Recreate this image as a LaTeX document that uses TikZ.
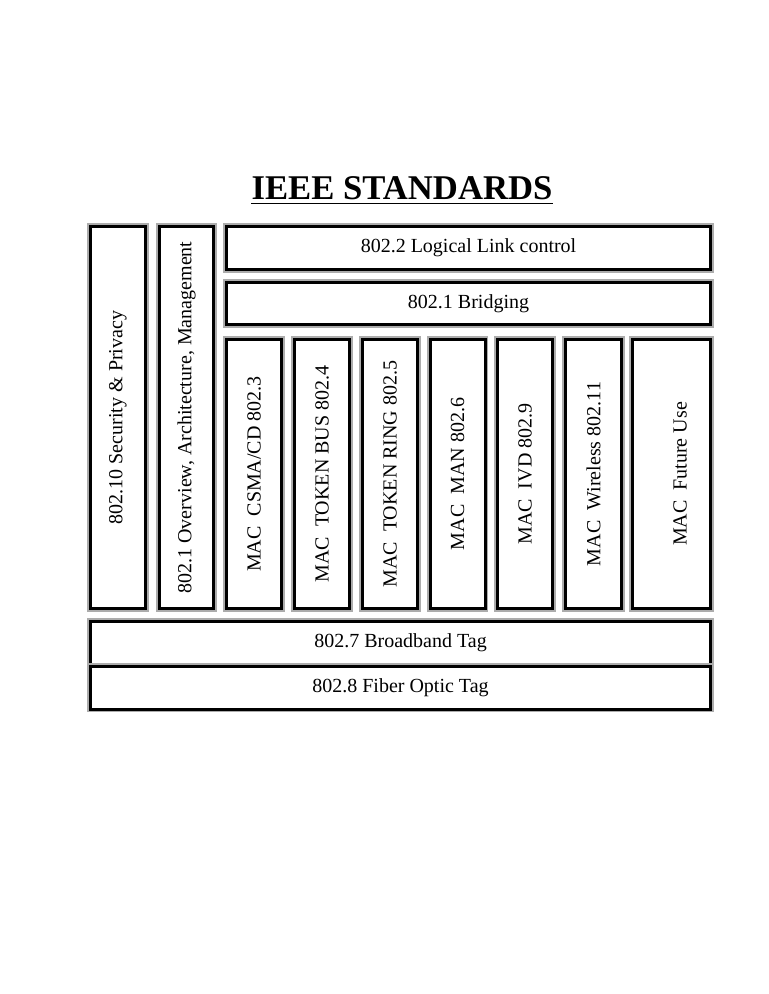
\documentclass[tikz,border=0pt]{standalone}
\usepackage{fontspec}
\setmainfont{Liberation Serif}

\tikzset{every picture/.style={line width=0.75pt}}
\tikzset{
  stdbox/.style={draw=black, line width=2.25pt, fill=white, inner sep=0pt,
    preaction={draw=gray!65, line width=5.2pt}, font=\fontsize{15}{18}\selectfont}
}

\begin{document}
\begin{tikzpicture}[x=0.75pt,y=0.75pt,yscale=-1,xscale=1]
\useasboundingbox (0,0) rectangle (768,994);

% Title
\draw (402,200) node [anchor=base][inner sep=0pt, font=\fontsize{26}{30}\selectfont\bfseries] (title) {IEEE STANDARDS};
\draw [line width=0.9pt] ([yshift=2.4pt]title.base west) -- ([yshift=2.4pt]title.base east);

%Rectangle: side columns
\draw (118,417.5) node [stdbox, minimum width=55*0.75pt, minimum height=382*0.75pt] (sec) {\rotatebox{90}{802.10 Security \& Privacy}};
\draw (186.5,417.5) node [stdbox, minimum width=54*0.75pt, minimum height=382*0.75pt] (ovw) {\rotatebox{90}{802.1 Overview, Architecture, Management}};

%Rectangle: top rows
\draw (468.5,248) node [stdbox, minimum width=484*0.75pt, minimum height=43*0.75pt] (llc) {802.2 Logical Link control};
\draw (468.5,303.5) node [stdbox, minimum width=484*0.75pt, minimum height=42*0.75pt] (brg) {802.1 Bridging};

%Rectangle: MAC columns
\draw (254,474) node [stdbox, minimum width=55*0.75pt, minimum height=269*0.75pt] (csma) {\rotatebox{90}{MAC\ \ CSMA/CD 802.3}};
\draw (322,474) node [stdbox, minimum width=55*0.75pt, minimum height=269*0.75pt] (tbus) {\rotatebox{90}{MAC\ \ TOKEN BUS 802.4}};
\draw (390,474) node [stdbox, minimum width=55*0.75pt, minimum height=269*0.75pt] (tring) {\rotatebox{90}{MAC\ \ TOKEN RING 802.5}};
\draw (457.5,474) node [stdbox, minimum width=55*0.75pt, minimum height=269*0.75pt] (man) {\rotatebox{90}{MAC\ \ MAN 802.6}};
\draw (525,474) node [stdbox, minimum width=55*0.75pt, minimum height=269*0.75pt] (ivd) {\rotatebox{90}{MAC\ \ IVD 802.9}};
\draw (593.5,474) node [stdbox, minimum width=56*0.75pt, minimum height=269*0.75pt] (wls) {\rotatebox{90}{MAC\ \ Wireless 802.11}};
\draw (671.5,474) node [stdbox, minimum width=78*0.75pt, minimum height=269*0.75pt] (fut) {};

% Text Node
\draw ([xshift=6.5pt]fut.center) node [inner sep=0pt, font=\fontsize{15}{18}\selectfont] (futtxt) {\rotatebox{90}{MAC\ \ Future Use}};

%Rectangle: bottom rows
\draw (400.5,642.5) node [stdbox, minimum width=620*0.75pt, minimum height=43*0.75pt] (bband) {802.7 Broadband Tag};
\draw (400.5,687.5) node [stdbox, minimum width=620*0.75pt, minimum height=43*0.75pt] (fiber) {802.8 Fiber Optic Tag};

\end{tikzpicture}
\end{document}
